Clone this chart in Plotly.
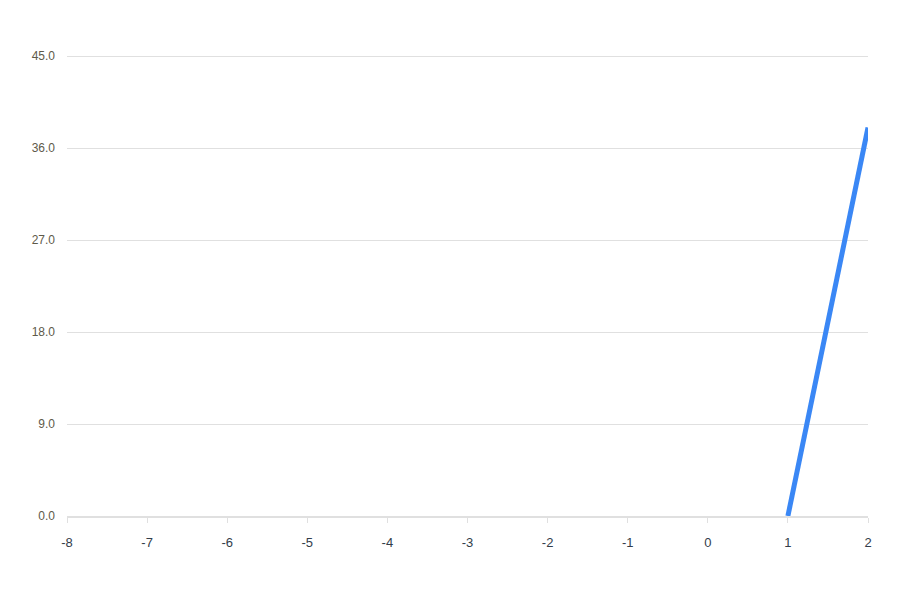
import plotly.graph_objects as go

# series data
x_vals = [1, 2]
y_vals = [0, 38]

x_ticks = list(range(-8, 3))
x_tick_labels = [str(v) for v in x_ticks]  # plain hyphen minus, like the original
y_ticks = [0, 9, 18, 27, 36, 45]

fig = go.Figure()

fig.add_trace(go.Scatter(
    x=x_vals,
    y=y_vals,
    mode='lines',
    line=dict(color='#3a87f5', width=5),
    showlegend=False,
    hoverinfo='skip',
    cliponaxis=False
))

# page body adds 8px offset, so margins are shifted accordingly
fig.update_layout(
    width=906,
    height=591,
    margin=dict(l=59, r=46, t=47, b=83),
    paper_bgcolor='white',
    plot_bgcolor='white',
    font=dict(family='Liberation Sans, Arial, sans-serif', size=12, color='#6e7079'),
    xaxis=dict(
        range=[-8, 2],
        tickvals=x_ticks,
        ticktext=x_tick_labels,
        showgrid=False,
        zeroline=False,
        showline=True,
        linecolor='#e0e0e0',
        linewidth=2,
        ticks='outside',
        ticklen=5,
        tickcolor='#e0e0e0',
        ticklabelstandoff=8,
        tickfont=dict(color='#333d4a', size=13),
    ),
    yaxis=dict(
        # a touch above 45 so the top gridline is still drawn
        range=[0, 45.1],
        tickvals=y_ticks,
        tickformat='.1f',
        showgrid=True,
        gridcolor='#e0e0e0',
        gridwidth=1,
        zeroline=False,
        showline=False,
        ticks='',
        ticklabelstandoff=11,
        tickfont=dict(color='#5e5a4a'),
    ),
)

fig.write_html("out.html")
